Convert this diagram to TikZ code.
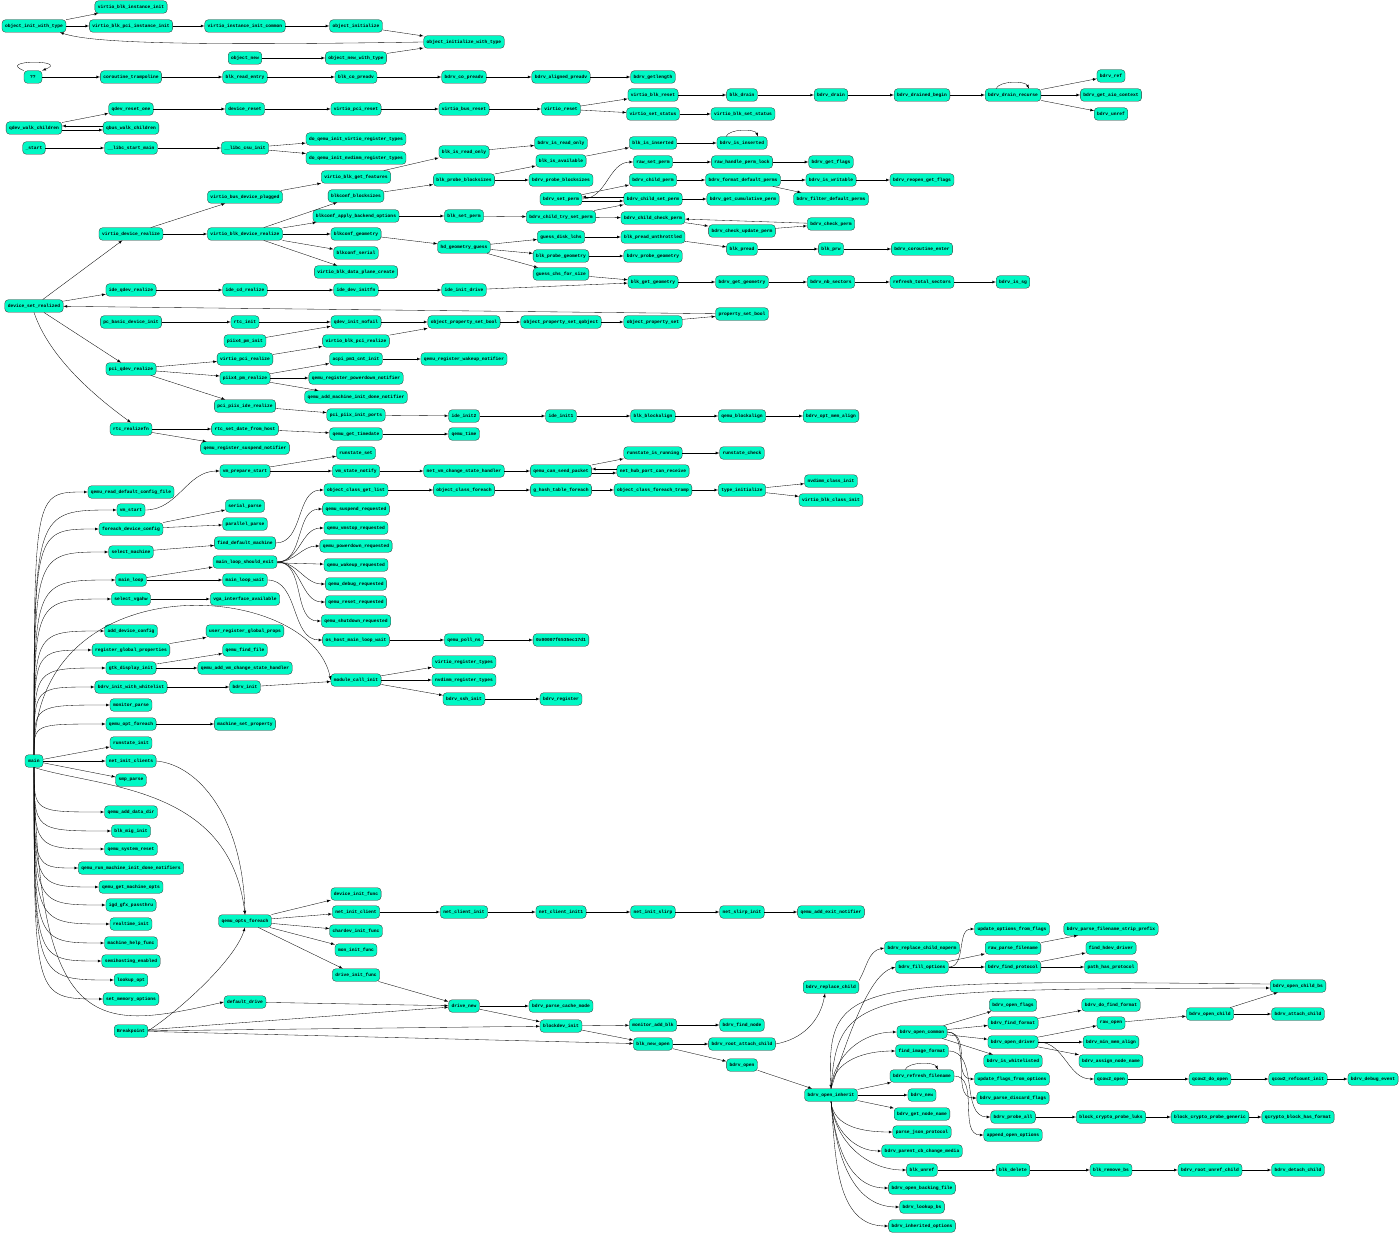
\documentclass[tikz,border=0pt]{standalone}
\usepackage{fontspec}
\setmonofont{Liberation Mono}
\definecolor{fnfill}{HTML}{00F8C4}

\begin{document}
\begin{tikzpicture}[x=1pt, y=1pt, line width=0.33pt,
  func node/.style={draw=black!80, fill=fnfill, rounded corners=3.5pt,
    font=\ttfamily\bfseries\fontsize{4.6}{5}\selectfont,
    inner xsep=3pt, inner ysep=0pt, minimum height=12.5pt, minimum width=18pt}]

\useasboundingbox (0,0) rectangle (1400,-1233);

% top rows
\node[func node] (oiwt) at (34,-26) {object\_init\_with\_type};
\node[func node] (vbii) at (131,-7) {virtio\_blk\_instance\_init};
\node[func node] (vbpii) at (131,-26) {virtio\_blk\_pci\_instance\_init};
\node[func node] (viic) at (245,-26) {virtio\_instance\_init\_common};
\node[func node] (oi) at (356,-26) {object\_initialize};
\node[func node] (oiwtype) at (464,-42) {object\_initialize\_with\_type};
\node[func node] (onew) at (245,-58) {object\_new};
\node[func node] (onwt) at (356,-58) {object\_new\_with\_type};
\node[func node] (qq) at (33,-77) {??};
\node[func node] (cotramp) at (131,-77) {coroutine\_trampoline};
\node[func node] (bre) at (245,-77) {blk\_read\_entry};
\node[func node] (bcp) at (356,-77) {blk\_co\_preadv};
\node[func node] (bdcp) at (464,-77) {bdrv\_co\_preadv};
\node[func node] (bap) at (561,-77) {bdrv\_aligned\_preadv};
\node[func node] (bgl) at (653,-77) {bdrv\_getlength};
\node[func node] (qro) at (131,-109) {qdev\_reset\_one};
\node[func node] (dreset) at (245,-109) {device\_reset};
\node[func node] (vpr) at (356,-109) {virtio\_pci\_reset};
\node[func node] (vbr) at (464,-109) {virtio\_bus\_reset};
\node[func node] (vreset) at (561,-109) {virtio\_reset};
\node[func node] (vblkr) at (653,-95) {virtio\_blk\_reset};
\node[func node] (vss) at (653,-114) {virtio\_set\_status};
\node[func node] (bdrain) at (742,-95) {blk\_drain};
\node[func node] (bddrain) at (831,-95) {bdrv\_drain};
\node[func node] (bdb) at (922,-95) {bdrv\_drained\_begin};
\node[func node] (bdr) at (1013,-95) {bdrv\_drain\_recurse};
\node[func node] (bref) at (1111,-76) {bdrv\_ref};
\node[func node] (bgac) at (1111,-95) {bdrv\_get\_aio\_context};
\node[func node] (bunref) at (1111,-114) {bdrv\_unref};
\node[func node] (vbss) at (743,-114) {virtio\_blk\_set\_status};
\node[func node] (qwc) at (34,-128) {qdev\_walk\_children};
\node[func node] (qbwc) at (131,-128) {qbus\_walk\_children};
\node[func node] (start) at (34,-148) {\_start};
\node[func node] (lsm) at (131,-148) {\_\_libc\_start\_main};
\node[func node] (lci) at (245,-148) {\_\_libc\_csu\_init};
\node[func node] (dqvirt) at (356,-139) {do\_qemu\_init\_virtio\_register\_types};
\node[func node] (dqnv) at (356,-158) {do\_qemu\_init\_nvdimm\_register\_types};

% device realize
\node[func node] (bro) at (464,-152) {blk\_is\_read\_only};
\node[func node] (bdro) at (561,-143) {bdrv\_is\_read\_only};
\node[func node] (bii) at (653,-143) {blk\_is\_inserted};
\node[func node] (bdii) at (742,-143) {bdrv\_is\_inserted};
\node[func node] (bia) at (561,-161) {blk\_is\_available};
\node[func node] (rsp) at (653,-162) {raw\_set\_perm};
\node[func node] (rhpl) at (742,-162) {raw\_handle\_perm\_lock};
\node[func node] (bgf) at (831,-162) {bdrv\_get\_flags};
\node[func node] (vbgf) at (356,-177) {virtio\_blk\_get\_features};
\node[func node] (vbdp) at (245,-197) {virtio\_bus\_device\_plugged};
\node[func node] (bcbs) at (356,-196) {blkconf\_blocksizes};
\node[func node] (bpb) at (464,-180) {blk\_probe\_blocksizes};
\node[func node] (bdpb) at (561,-180) {bdrv\_probe\_blocksizes};
\node[func node] (bcperm) at (653,-180) {bdrv\_child\_perm};
\node[func node] (bfdp) at (743,-180) {bdrv\_format\_default\_perms};
\node[func node] (biw) at (831,-180) {bdrv\_is\_writable};
\node[func node] (brgf) at (922,-180) {bdrv\_reopen\_get\_flags};
\node[func node] (bsp) at (561,-199) {bdrv\_set\_perm};
\node[func node] (bcsp) at (653,-199) {bdrv\_child\_set\_perm};
\node[func node] (bgcp) at (743,-199) {bdrv\_get\_cumulative\_perm};
\node[func node] (bfilt) at (831,-199) {bdrv\_filter\_default\_perms};
\node[func node] (vdr) at (131,-234) {virtio\_device\_realize};
\node[func node] (vbdr) at (245,-234) {virtio\_blk\_device\_realize};
\node[func node] (bcabo) at (356,-216) {blkconf\_apply\_backend\_options};
\node[func node] (bsetp) at (464,-216) {blk\_set\_perm};
\node[func node] (bctsp) at (561,-217) {bdrv\_child\_try\_set\_perm};
\node[func node] (bccp) at (653,-218) {bdrv\_child\_check\_perm};
\node[func node] (bcheckp) at (831,-224) {bdrv\_check\_perm};
\node[func node] (bcup) at (742,-231) {bdrv\_check\_update\_perm};
\node[func node] (bcgeo) at (356,-234) {blkconf\_geometry};
\node[func node] (hgg) at (464,-247) {hd\_geometry\_guess};
\node[func node] (gdl) at (561,-237) {guess\_disk\_lchs};
\node[func node] (bpu) at (653,-237) {blk\_pread\_unthrottled};
\node[func node] (bpread) at (742,-249) {blk\_pread};
\node[func node] (bprw) at (831,-249) {blk\_prw};
\node[func node] (bce) at (922,-249) {bdrv\_coroutine\_enter};
\node[func node] (bcser) at (356,-253) {blkconf\_serial};
\node[func node] (bpg) at (561,-256) {blk\_probe\_geometry};
\node[func node] (bdpg) at (653,-256) {bdrv\_probe\_geometry};
\node[func node] (vbdpc) at (356,-272) {virtio\_blk\_data\_plane\_create};
\node[func node] (gcfs) at (561,-274) {guess\_chs\_for\_size};
\node[func node] (bgg) at (653,-282) {blk\_get\_geometry};
\node[func node] (bdgg) at (742,-282) {bdrv\_get\_geometry};
\node[func node] (bns) at (831,-282) {bdrv\_nb\_sectors};
\node[func node] (rts) at (922,-282) {refresh\_total\_sectors};
\node[func node] (bsg) at (1013,-282) {bdrv\_is\_sg};
\node[func node] (iqr) at (131,-290) {ide\_qdev\_realize};
\node[func node] (icr) at (245,-290) {ide\_cd\_realize};
\node[func node] (idi) at (356,-290) {ide\_dev\_initfn};
\node[func node] (iid) at (464,-290) {ide\_init\_drive};
\node[func node] (dsr) at (34,-306) {device\_set\_realized};
\node[func node] (pbdi) at (131,-322) {pc\_basic\_device\_init};
\node[func node] (rtcinit) at (245,-322) {rtc\_init};
\node[func node] (qin) at (356,-322) {qdev\_init\_nofail};
\node[func node] (opsb) at (464,-322) {object\_property\_set\_bool};
\node[func node] (opsq) at (561,-322) {object\_property\_set\_qobject};
\node[func node] (ops) at (653,-322) {object\_property\_set};
\node[func node] (psb) at (742,-314) {property\_set\_bool};
\node[func node] (ppi) at (245,-341) {piix4\_pm\_init};
\node[func node] (vbpr) at (356,-341) {virtio\_blk\_pci\_realize};
\node[func node] (vpcir) at (245,-359) {virtio\_pci\_realize};
\node[func node] (apci) at (356,-359) {acpi\_pm1\_cnt\_init};
\node[func node] (qrwn) at (464,-359) {qemu\_register\_wakeup\_notifier};
\node[func node] (pqr) at (131,-369) {pci\_qdev\_realize};
\node[func node] (ppr) at (245,-378) {piix4\_pm\_realize};
\node[func node] (qrpn) at (356,-378) {qemu\_register\_powerdown\_notifier};
\node[func node] (qamidn) at (356,-397) {qemu\_add\_machine\_init\_done\_notifier};
\node[func node] (ppir) at (245,-406) {pci\_piix\_ide\_realize};
\node[func node] (ppip) at (356,-415) {pci\_piix\_init\_ports};
\node[func node] (ideinitb) at (464,-416) {ide\_init2};
\node[func node] (ideinita) at (561,-416) {ide\_init1};
\node[func node] (bba) at (653,-416) {blk\_blockalign};
\node[func node] (qba) at (742,-416) {qemu\_blockalign};
\node[func node] (boma) at (831,-416) {bdrv\_opt\_mem\_align};
\node[func node] (rtcr) at (131,-429) {rtc\_realizefn};
\node[func node] (rsdfh) at (245,-429) {rtc\_set\_date\_from\_host};
\node[func node] (qgt) at (356,-434) {qemu\_get\_timedate};
\node[func node] (qtime) at (464,-434) {qemu\_time};
\node[func node] (qrsn) at (245,-448) {qemu\_register\_suspend\_notifier};

% main
\node[func node] (rset) at (356,-453) {runstate\_set};
\node[func node] (rir) at (653,-453) {runstate\_is\_running};
\node[func node] (rcheck) at (742,-453) {runstate\_check};
\node[func node] (vps) at (245,-471) {vm\_prepare\_start};
\node[func node] (vsn) at (356,-471) {vm\_state\_notify};
\node[func node] (nvcsh) at (464,-471) {net\_vm\_change\_state\_handler};
\node[func node] (qcsp) at (561,-471) {qemu\_can\_send\_packet};
\node[func node] (nhpcr) at (653,-471) {net\_hub\_port\_can\_receive};
\node[func node] (ocgl) at (356,-490) {object\_class\_get\_list};
\node[func node] (ocf) at (464,-490) {object\_class\_foreach};
\node[func node] (ghtf) at (561,-490) {g\_hash\_table\_foreach};
\node[func node] (ocft) at (653,-490) {object\_class\_foreach\_tramp};
\node[func node] (tinit) at (742,-490) {type\_initialize};
\node[func node] (nci) at (831,-481) {nvdimm\_class\_init};
\node[func node] (vbci) at (831,-500) {virtio\_blk\_class\_init};
\node[func node] (qrdcf) at (131,-492) {qemu\_read\_default\_config\_file};
\node[func node] (vmstart) at (131,-510) {vm\_start};
\node[func node] (qsusp) at (356,-509) {qemu\_suspend\_requested};
\node[func node] (sparse) at (245,-506) {serial\_parse};
\node[func node] (fdc) at (131,-529) {foreach\_device\_config};
\node[func node] (pparse) at (245,-524) {parallel\_parse};
\node[func node] (qvmstop) at (356,-528) {qemu\_vmstop\_requested};
\node[func node] (smach) at (131,-552) {select\_machine};
\node[func node] (fdm) at (245,-543) {find\_default\_machine};
\node[func node] (qpower) at (356,-546) {qemu\_powerdown\_requested};
\node[func node] (mlse) at (245,-562) {main\_loop\_should\_exit};
\node[func node] (qwake) at (356,-565) {qemu\_wakeup\_requested};
\node[func node] (mloop) at (131,-580) {main\_loop};
\node[func node] (mlw) at (245,-580) {main\_loop\_wait};
\node[func node] (qdebug) at (356,-584) {qemu\_debug\_requested};
\node[func node] (svga) at (131,-599) {select\_vgahw};
\node[func node] (via) at (245,-599) {vga\_interface\_available};
\node[func node] (qreset) at (356,-602) {qemu\_reset\_requested};
\node[func node] (qshut) at (356,-621) {qemu\_shutdown\_requested};
\node[func node] (ohmlw) at (356,-640) {os\_host\_main\_loop\_wait};
\node[func node] (qpoll) at (464,-640) {qemu\_poll\_ns};
\node[func node] (addr) at (561,-640) {0x00007f6535ec17d1};
\node[func node] (adc) at (131,-631) {add\_device\_config};
\node[func node] (urgp) at (245,-631) {user\_register\_global\_props};
\node[func node] (rgp) at (131,-650) {register\_global\_properties};
\node[func node] (qff) at (245,-650) {qemu\_find\_file};
\node[func node] (gdi) at (131,-668) {gtk\_display\_init};
\node[func node] (qavcsh) at (245,-668) {qemu\_add\_vm\_change\_state\_handler};
\node[func node] (mci) at (356,-680) {module\_call\_init};
\node[func node] (vrt) at (464,-662) {virtio\_register\_types};
\node[func node] (nrt) at (464,-680) {nvdimm\_register\_types};
\node[func node] (bsi) at (464,-699) {bdrv\_ssh\_init};
\node[func node] (breg) at (561,-699) {bdrv\_register};
\node[func node] (biww) at (131,-687) {bdrv\_init\_with\_whitelist};
\node[func node] (binit) at (245,-687) {bdrv\_init};
\node[func node] (mparse) at (131,-705) {monitor\_parse};
\node[func node] (qof) at (131,-724) {qemu\_opt\_foreach};
\node[func node] (msp) at (245,-724) {machine\_set\_property};
\node[func node] (rinit) at (131,-743) {runstate\_init};
\node[func node] (main) at (34,-761) {main};
\node[func node] (nic) at (131,-761) {net\_init\_clients};
\node[func node] (smpp) at (131,-780) {smp\_parse};
\node[func node] (qadd) at (131,-812) {qemu\_add\_data\_dir};
\node[func node] (bmi) at (131,-831) {blk\_mig\_init};
\node[func node] (qsr) at (131,-849) {qemu\_system\_reset};
\node[func node] (qrmidn) at (131,-868) {qemu\_run\_machine\_init\_done\_notifiers};
\node[func node] (qgmo) at (131,-887) {qemu\_get\_machine\_opts};
\node[func node] (igp) at (131,-905) {igd\_gfx\_passthru};
\node[func node] (rtinit) at (131,-924) {realtime\_init};
\node[func node] (mhf) at (131,-943) {machine\_help\_func};
\node[func node] (she) at (131,-961) {semihosting\_enabled};
\node[func node] (lopt) at (131,-980) {lookup\_opt};
\node[func node] (smo) at (131,-999) {set\_memory\_options};

% drives
\node[func node] (qosf) at (245,-921) {qemu\_opts\_foreach};
\node[func node] (dif) at (356,-894) {device\_init\_func};
\node[func node] (nicl) at (356,-912) {net\_init\_client};
\node[func node] (cif) at (356,-931) {chardev\_init\_func};
\node[func node] (mif) at (356,-950) {mon\_init\_func};
\node[func node] (drif) at (356,-975) {drive\_init\_func};
\node[func node] (nclinit) at (464,-912) {net\_client\_init};
\node[func node] (ncinita) at (561,-912) {net\_client\_init1};
\node[func node] (nislirp) at (653,-912) {net\_init\_slirp};
\node[func node] (nslirp) at (742,-912) {net\_slirp\_init};
\node[func node] (qaen) at (831,-912) {qemu\_add\_exit\_notifier};
\node[func node] (ddrive) at (245,-1002) {default\_drive};
\node[func node] (bkpt) at (131,-1031) {Breakpoint};
\node[func node] (dnew) at (464,-1006) {drive\_new};
\node[func node] (bpcm) at (561,-1006) {bdrv\_parse\_cache\_mode};
\node[func node] (bdinit) at (561,-1026) {blockdev\_init};
\node[func node] (mab) at (653,-1025) {monitor\_add\_blk};
\node[func node] (bfn) at (742,-1025) {bdrv\_find\_node};
\node[func node] (bno) at (653,-1044) {blk\_new\_open};
\node[func node] (brac) at (742,-1044) {bdrv\_root\_attach\_child};
\node[func node] (bopen) at (742,-1065) {bdrv\_open};
\node[func node] (brc) at (831,-987) {bdrv\_replace\_child};
\node[func node] (brcn) at (922,-948) {bdrv\_replace\_child\_noperm};
\node[func node] (bfo) at (922,-967) {bdrv\_fill\_options};
\node[func node] (uoff) at (1012,-929) {update\_options\_from\_flags};
\node[func node] (rpf) at (1013,-948) {raw\_parse\_filename};
\node[func node] (bfp) at (1013,-967) {bdrv\_find\_protocol};
\node[func node] (bpfsp) at (1111,-929) {bdrv\_parse\_filename\_strip\_prefix};
\node[func node] (fhd) at (1111,-948) {find\_hdev\_driver};
\node[func node] (php) at (1111,-967) {path\_has\_protocol};
\node[func node] (bocb) at (1298,-986) {bdrv\_open\_child\_bs};
\node[func node] (bof) at (1013,-1005) {bdrv\_open\_flags};
\node[func node] (bdff) at (1111,-1005) {bdrv\_do\_find\_format};
\node[func node] (boc) at (922,-1032) {bdrv\_open\_common};
\node[func node] (bff) at (1013,-1023) {bdrv\_find\_format};
\node[func node] (rawopen) at (1111,-1023) {raw\_open};
\node[func node] (bochild) at (1210,-1014) {bdrv\_open\_child};
\node[func node] (bac) at (1298,-1014) {bdrv\_attach\_child};
\node[func node] (bod) at (1013,-1042) {bdrv\_open\_driver};
\node[func node] (bmma) at (1111,-1042) {bdrv\_min\_mem\_align};
\node[func node] (bann) at (1111,-1061) {bdrv\_assign\_node\_name};
\node[func node] (biwl) at (1013,-1061) {bdrv\_is\_whitelisted};
\node[func node] (fif) at (922,-1051) {find\_image\_format};
\node[func node] (qopen) at (1111,-1079) {qcow2\_open};
\node[func node] (qdo) at (1210,-1079) {qcow2\_do\_open};
\node[func node] (qri) at (1298,-1079) {qcow2\_refcount\_init};
\node[func node] (bde) at (1373,-1079) {bdrv\_debug\_event};
\node[func node] (uffo) at (1012,-1079) {update\_flags\_from\_options};
\node[func node] (brf) at (922,-1076) {bdrv\_refresh\_filename};
\node[func node] (boi) at (831,-1095) {bdrv\_open\_inherit};
\node[func node] (bnew) at (922,-1095) {bdrv\_new};
\node[func node] (bpdf) at (1013,-1098) {bdrv\_parse\_discard\_flags};
\node[func node] (bgnn) at (922,-1114) {bdrv\_get\_node\_name};
\node[func node] (bpa) at (1013,-1117) {bdrv\_probe\_all};
\node[func node] (bcpl) at (1111,-1117) {block\_crypto\_probe\_luks};
\node[func node] (bcpg) at (1210,-1117) {block\_crypto\_probe\_generic};
\node[func node] (qbhf) at (1298,-1117) {qcrypto\_block\_has\_format};
\node[func node] (pjp) at (922,-1132) {parse\_json\_protocol};
\node[func node] (aoo) at (1013,-1135) {append\_open\_options};
\node[func node] (bpccm) at (922,-1151) {bdrv\_parent\_cb\_change\_media};
\node[func node] (bunrefb) at (922,-1170) {blk\_unref};
\node[func node] (bdel) at (1013,-1170) {blk\_delete};
\node[func node] (brbs) at (1111,-1170) {blk\_remove\_bs};
\node[func node] (bruc) at (1210,-1170) {bdrv\_root\_unref\_child};
\node[func node] (bdc) at (1298,-1170) {bdrv\_detach\_child};
\node[func node] (bobf) at (922,-1188) {bdrv\_open\_backing\_file};
\node[func node] (blbs) at (922,-1207) {bdrv\_lookup\_bs};
\node[func node] (bio) at (922,-1226) {bdrv\_inherited\_options};

% calls, top rows
\draw[-latex] (oiwt) -- (vbii);
\draw[-latex] (oiwt) -- (vbpii);
\draw[-latex] (vbpii) -- (viic);
\draw[-latex] (viic) -- (oi);
\draw[-latex] (oi) -- (oiwtype);
\draw[-latex] (onew) -- (onwt);
\draw[-latex] (onwt) -- (oiwtype);
\draw[-latex] (oiwtype.west) .. controls +(-250,-4) and +(30,-10) .. ([xshift=26]oiwt.south);
\draw[-latex] (qq.north west) .. controls +(-28,11) and +(28,11) .. (qq.north east);
\draw[-latex] (qq) -- (cotramp);
\draw[-latex] (cotramp) -- (bre);
\draw[-latex] (bre) -- (bcp);
\draw[-latex] (bcp) -- (bdcp);
\draw[-latex] (bdcp) -- (bap);
\draw[-latex] (bap) -- (bgl);
\draw[-latex] (qwc) -- (qro);
\draw[-latex] ([yshift=-2]qwc.east) -- ([yshift=-2]qbwc.west);
\draw[-latex] ([yshift=2]qbwc.west) -- ([yshift=2]qwc.east);
\draw[-latex] (qro) -- (dreset);
\draw[-latex] (dreset) -- (vpr);
\draw[-latex] (vpr) -- (vbr);
\draw[-latex] (vbr) -- (vreset);
\draw[-latex] (vreset) -- (vblkr);
\draw[-latex] (vreset) -- (vss);
\draw[-latex] (vblkr) -- (bdrain);
\draw[-latex] (bdrain) -- (bddrain);
\draw[-latex] (bddrain) -- (bdb);
\draw[-latex] (bdb) -- (bdr);
\draw[-latex] ([xshift=-17]bdr.north) .. controls +(4,8) and +(-4,8) .. ([xshift=16]bdr.north);
\draw[-latex] (bdr) -- (bref);
\draw[-latex] (bdr) -- (bgac);
\draw[-latex] (bdr) -- (bunref);
\draw[-latex] (vss) -- (vbss);
\draw[-latex] (start) -- (lsm);
\draw[-latex] (lsm) -- (lci);
\draw[-latex] (lci) -- (dqvirt);
\draw[-latex] (lci) -- (dqnv);

% calls, device realize
\draw[-latex] (dsr) -- (vdr);
\draw[-latex] (dsr) -- (iqr);
\draw[-latex] (dsr) -- (pqr);
\draw[-latex] (dsr.south) .. controls (50,-360) and (100,-400) .. (rtcr.north);
\draw[-latex] (vdr) -- (vbdp);
\draw[-latex] (vdr) -- (vbdr);
\draw[-latex] (vbdp) -- (vbgf);
\draw[-latex] (vbgf) -- (bro);
\draw[-latex] (bro) -- (bdro);
\draw[-latex] (vbdr) -- (bcbs);
\draw[-latex] (vbdr) -- (bcabo);
\draw[-latex] (vbdr) -- (bcgeo);
\draw[-latex] (vbdr) -- (bcser);
\draw[-latex] (vbdr) -- (vbdpc);
\draw[-latex] (bcbs) -- (bpb);
\draw[-latex] (bpb) -- (bdpb);
\draw[-latex] (bpb) -- (bia);
\draw[-latex] (bia) -- (bii);
\draw[-latex] (bii) -- (bdii);
\draw[-latex] ([xshift=-16]bdii.north) .. controls +(3,8) and +(-3,8) .. ([xshift=16]bdii.north);
\draw[-latex] (bcabo) -- (bsetp);
\draw[-latex] (bsetp) -- (bctsp);
\draw[-latex] (bctsp) -- (bccp);
\draw[-latex] (bctsp) -- (bcsp);
\draw[-latex] (bsp.east) to[out=0, in=180] (rsp.west);
\draw[-latex] (bsp) -- (bcperm);
\draw[-latex] ([yshift=-2]bsp.east) -- ([yshift=-2]bcsp.west);
\draw[-latex] ([yshift=2]bcsp.west) -- ([yshift=2]bsp.east);
\draw[-latex] (rsp) -- (rhpl);
\draw[-latex] (rhpl) -- (bgf);
\draw[-latex] (bcperm) -- (bfdp);
\draw[-latex] (bfdp) -- (biw);
\draw[-latex] (bfdp) -- (bfilt);
\draw[-latex] (biw) -- (brgf);
\draw[-latex] (bcsp) -- (bgcp);
\draw[-latex] (bccp) -- (bcup);
\draw[-latex] (bcup) -- (bcheckp);
\draw[-latex] (bcheckp) -- (bccp);
\draw[-latex] (bcgeo) -- (hgg);
\draw[-latex] (hgg) -- (gdl);
\draw[-latex] (hgg) -- (bpg);
\draw[-latex] (hgg) -- (gcfs);
\draw[-latex] (gdl) -- (bpu);
\draw[-latex] (bpu) -- (bpread);
\draw[-latex] (bpread) -- (bprw);
\draw[-latex] (bprw) -- (bce);
\draw[-latex] (bpg) -- (bdpg);
\draw[-latex] (gcfs) -- (bgg);
\draw[-latex] (iid) -- (bgg);
\draw[-latex] (bgg) -- (bdgg);
\draw[-latex] (bdgg) -- (bns);
\draw[-latex] (bns) -- (rts);
\draw[-latex] (rts) -- (bsg);
\draw[-latex] (iqr) -- (icr);
\draw[-latex] (icr) -- (idi);
\draw[-latex] (idi) -- (iid);
\draw[-latex] (pbdi) -- (rtcinit);
\draw[-latex] (rtcinit) -- (qin);
\draw[-latex] (ppi) -- (qin);
\draw[-latex] (qin) -- (opsb);
\draw[-latex] (vbpr) -- (opsb);
\draw[-latex] (opsb) -- (opsq);
\draw[-latex] (opsq) -- (ops);
\draw[-latex] (ops) -- (psb);
\draw[-latex] (psb) -- (dsr);
\draw[-latex] (pqr) -- (vpcir);
\draw[-latex] (pqr) -- (ppr);
\draw[-latex] (pqr) -- (ppir);
\draw[-latex] (vpcir) -- (vbpr);
\draw[-latex] (ppr) -- (apci);
\draw[-latex] (ppr) -- (qrpn);
\draw[-latex] (ppr) -- (qamidn);
\draw[-latex] (apci) -- (qrwn);
\draw[-latex] (ppir) -- (ppip);
\draw[-latex] (ppip) -- (ideinitb);
\draw[-latex] (ideinitb) -- (ideinita);
\draw[-latex] (ideinita) -- (bba);
\draw[-latex] (bba) -- (qba);
\draw[-latex] (qba) -- (boma);
\draw[-latex] (rtcr) -- (rsdfh);
\draw[-latex] (rtcr) -- (qrsn);
\draw[-latex] (rsdfh) -- (qgt);
\draw[-latex] (qgt) -- (qtime);

% calls, main
\draw[-latex] (main.north) .. controls (main.north |- qrdcf.west) .. (qrdcf.west);
\draw[-latex] (main.north) .. controls (main.north |- vmstart.west) .. (vmstart.west);
\draw[-latex] (main.north) .. controls (main.north |- fdc.west) .. (fdc.west);
\draw[-latex] (main.north) .. controls (main.north |- smach.west) .. (smach.west);
\draw[-latex] (main.north) .. controls (main.north |- mloop.west) .. (mloop.west);
\draw[-latex] (main.north) .. controls (main.north |- svga.west) .. (svga.west);
\draw[-latex] (main.north) .. controls (34,-560) and (310,-580) .. (mci.west);
\draw[-latex] (main.north) .. controls (main.north |- adc.west) .. (adc.west);
\draw[-latex] (main.north) .. controls (main.north |- rgp.west) .. (rgp.west);
\draw[-latex] (main.north) .. controls (main.north |- gdi.west) .. (gdi.west);
\draw[-latex] (main.north) .. controls (main.north |- biww.west) .. (biww.west);
\draw[-latex] (main.north) .. controls (main.north |- mparse.west) .. (mparse.west);
\draw[-latex] (main.north) .. controls (main.north |- qof.west) .. (qof.west);
\draw[-latex] (main) -- (rinit);
\draw[-latex] (main) -- (nic);
\draw[-latex] (main) -- (smpp);
\draw[-latex] (main.south) .. controls (100,-788) and (230,-785) .. (qosf.north);
\draw[-latex] (main.south) .. controls (main.south |- qadd.west) .. (qadd.west);
\draw[-latex] (main.south) .. controls (main.south |- bmi.west) .. (bmi.west);
\draw[-latex] (main.south) .. controls (main.south |- qsr.west) .. (qsr.west);
\draw[-latex] (main.south) .. controls (main.south |- qrmidn.west) .. (qrmidn.west);
\draw[-latex] (main.south) .. controls (main.south |- qgmo.west) .. (qgmo.west);
\draw[-latex] (main.south) .. controls (main.south |- igp.west) .. (igp.west);
\draw[-latex] (main.south) .. controls (main.south |- rtinit.west) .. (rtinit.west);
\draw[-latex] (main.south) .. controls (main.south |- mhf.west) .. (mhf.west);
\draw[-latex] (main.south) .. controls (main.south |- she.west) .. (she.west);
\draw[-latex] (main.south) .. controls (main.south |- lopt.west) .. (lopt.west);
\draw[-latex] (main.south) .. controls (main.south |- smo.west) .. (smo.west);
\draw[-latex] (main.south) .. controls (38,-1040) and (100,-1030) .. (ddrive.west);
\draw[-latex] (vmstart.east) to[out=0, in=180] (vps.west);
\draw[-latex] (vps) -- (rset);
\draw[-latex] (vps) -- (vsn);
\draw[-latex] (vsn) -- (nvcsh);
\draw[-latex] (nvcsh) -- (qcsp);
\draw[-latex] (qcsp) -- (rir);
\draw[-latex] ([yshift=-2]qcsp.east) -- ([yshift=-2]nhpcr.west);
\draw[-latex] ([yshift=2]nhpcr.west) -- ([yshift=2]qcsp.east);
\draw[-latex] (rir) -- (rcheck);
\draw[-latex] (ocgl) -- (ocf);
\draw[-latex] (ocf) -- (ghtf);
\draw[-latex] (ghtf) -- (ocft);
\draw[-latex] (ocft) -- (tinit);
\draw[-latex] (tinit) -- (nci);
\draw[-latex] (tinit) -- (vbci);
\draw[-latex] (fdc) -- (sparse);
\draw[-latex] (fdc) -- (pparse);
\draw[-latex] (smach) -- (fdm);
\draw[-latex] (fdm.east) to[out=0, in=180] (ocgl.west);
\draw[-latex] (mloop) -- (mlse);
\draw[-latex] (mloop) -- (mlw);
\draw[-latex] (mlse.east) to[out=0, in=180] (qsusp.west);
\draw[-latex] (mlse.east) to[out=0, in=180] (qvmstop.west);
\draw[-latex] (mlse.east) to[out=0, in=180] (qpower.west);
\draw[-latex] (mlse) -- (qwake);
\draw[-latex] (mlse.east) to[out=0, in=180] (qdebug.west);
\draw[-latex] (mlse.east) to[out=0, in=180] (qreset.west);
\draw[-latex] (mlse.east) to[out=0, in=180] (qshut.west);
\draw[-latex] (mlw.east) to[out=0, in=180] (ohmlw.west);
\draw[-latex] (ohmlw) -- (qpoll);
\draw[-latex] (qpoll) -- (addr);
\draw[-latex] (svga) -- (via);
\draw[-latex] (rgp) -- (urgp);
\draw[-latex] (gdi) -- (qff);
\draw[-latex] (gdi) -- (qavcsh);
\draw[-latex] (biww) -- (binit);
\draw[-latex] (binit) -- (mci);
\draw[-latex] (mci) -- (vrt);
\draw[-latex] (mci) -- (nrt);
\draw[-latex] (mci) -- (bsi);
\draw[-latex] (bsi) -- (breg);
\draw[-latex] (qof) -- (msp);
\draw[-latex] (nic.east) .. controls (200,-765) and (243,-820) .. (qosf.north);

% calls, drives
\draw[-latex] (qosf) -- (dif);
\draw[-latex] (qosf) -- (nicl);
\draw[-latex] (qosf) -- (cif);
\draw[-latex] (qosf) -- (mif);
\draw[-latex] (qosf) -- (drif);
\draw[-latex] (nicl) -- (nclinit);
\draw[-latex] (nclinit) -- (ncinita);
\draw[-latex] (ncinita) -- (nislirp);
\draw[-latex] (nislirp) -- (nslirp);
\draw[-latex] (nslirp) -- (qaen);
\draw[-latex] (bkpt.east) .. controls (180,-1010) and (235,-960) .. (qosf.south);
\draw[-latex] (drif) -- (dnew);
\draw[-latex] (ddrive) -- (dnew);
\draw[-latex] (bkpt) -- (dnew);
\draw[-latex] (bkpt) -- (bdinit);
\draw[-latex] (bkpt) -- (bno);
\draw[-latex] (dnew) -- (bpcm);
\draw[-latex] (dnew) -- (bdinit);
\draw[-latex] (bdinit) -- (mab);
\draw[-latex] (bdinit) -- (bno);
\draw[-latex] (mab) -- (bfn);
\draw[-latex] (bno) -- (brac);
\draw[-latex] (bno) -- (bopen);
\draw[-latex] (brac.east) to[out=10, in=-100] ([xshift=-6]brc.south);
\draw[-latex] (brc.north east) to[out=60, in=190] (brcn.west);
\draw[-latex] (bopen) -- (boi);
\draw[-latex] (boi.north) .. controls (850,-1030) and (870,-975) .. (bfo.west);
\draw[-latex] (boi.north) .. controls (838,-990) and (860,-989) .. ([yshift=-2]bocb.west);
\draw[-latex] ([yshift=2]bocb.west) .. controls (850,-980) and (826,-978) .. (boi.north);
\draw[-latex] (boi.north) to[out=85, in=180] (boc.west);
\draw[-latex] (boi.north) to[out=85, in=180] (fif.west);
\draw[-latex] (boi) -- (brf);
\draw[-latex] (boi) -- (bnew);
\draw[-latex] (boi) -- (bgnn);
\draw[-latex] (boi.south) to[out=-85, in=180] (pjp.west);
\draw[-latex] (boi.south) to[out=-85, in=180] (bpccm.west);
\draw[-latex] (boi.south) to[out=-85, in=180] (bunrefb.west);
\draw[-latex] (boi.south) to[out=-85, in=180] (bobf.west);
\draw[-latex] (boi.south) to[out=-85, in=180] (blbs.west);
\draw[-latex] (boi.south) to[out=-85, in=180] (bio.west);
\draw[-latex] (bfo.east) to[out=0, in=180] (uoff.west);
\draw[-latex] (bfo) -- (rpf);
\draw[-latex] (bfo) -- (bfp);
\draw[-latex] (rpf) -- (bpfsp);
\draw[-latex] (bfp) -- (fhd);
\draw[-latex] (bfp) -- (php);
\draw[-latex] (boc) -- (bof);
\draw[-latex] (boc) -- (bff);
\draw[-latex] (boc) -- (bod);
\draw[-latex] (boc) -- (biwl);
\draw[-latex] (boc.east) to[out=0, in=180] (uffo.west);
\draw[-latex] (boc.east) to[out=0, in=180] (bpdf.west);
\draw[-latex] (bff) -- (bdff);
\draw[-latex] (bod) -- (rawopen);
\draw[-latex] (bod) -- (bmma);
\draw[-latex] (bod) -- (bann);
\draw[-latex] (bod.east) to[out=0, in=180] (qopen.west);
\draw[-latex] (rawopen) -- (bochild);
\draw[-latex] (bochild) -- (bocb);
\draw[-latex] (bochild) -- (bac);
\draw[-latex] (qopen) -- (qdo);
\draw[-latex] (qdo) -- (qri);
\draw[-latex] (qri) -- (bde);
\draw[-latex] (fif.east) to[out=0, in=180] (bpa.west);
\draw[-latex] (bpa) -- (bcpl);
\draw[-latex] (bcpl) -- (bcpg);
\draw[-latex] (bcpg) -- (qbhf);
\draw[-latex] ([xshift=-17]brf.north) .. controls +(4,8) and +(-4,8) .. ([xshift=16]brf.north);
\draw[-latex] (brf.east) to[out=0, in=180] (aoo.west);
\draw[-latex] (bunrefb) -- (bdel);
\draw[-latex] (bdel) -- (brbs);
\draw[-latex] (brbs) -- (bruc);
\draw[-latex] (bruc) -- (bdc);

\end{tikzpicture}
\end{document}
